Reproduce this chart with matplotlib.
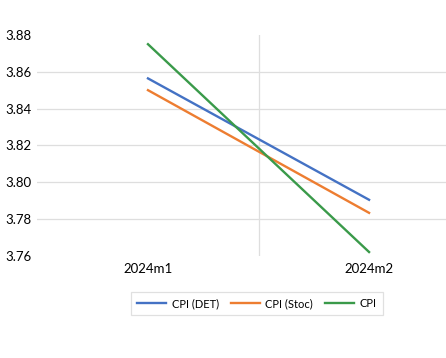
import matplotlib.pyplot as plt

periods = ["2024m1", "2024m2"]
cpi_det = [3.8564, 3.7904]
cpi_stoc = [3.8500, 3.7833]
cpi = [3.8750, 3.7620]
y_ticks = [3.76, 3.78, 3.80, 3.82, 3.84, 3.86, 3.88]

plt.rcParams['font.family'] = ['Lato', 'DejaVu Sans']

dpi = 100
fig = plt.figure(figsize=(446 / dpi, 358 / dpi), dpi=dpi)
ax = fig.add_axes([37 / 446, 1 - 255.7 / 358, 409 / 446, (255.7 - 35) / 358])

x = list(range(len(periods)))

# light gridlines (inner ticks only, like the source)
for t in y_ticks[1:-1]:
    ax.axhline(t, color="#dedede", lw=0.9, zorder=0)
ax.axvline(0.5, color="#dedede", lw=0.9, zorder=0)

ax.plot(x, cpi_det, color="#4472C4", lw=1.7, label="CPI (DET)")
ax.plot(x, cpi_stoc, color="#ED7D31", lw=1.7, label="CPI (Stoc)")
ax.plot(x, cpi, color="#3A9A4A", lw=1.7, label="CPI")

ax.set_xlim(-0.502, 1.348)
ax.set_ylim(3.76, 3.88)
ax.set_yticks(y_ticks)
ax.set_yticklabels([f"{t:.2f}" for t in y_ticks])
ax.set_xticks(x)
ax.set_xticklabels(periods)
ax.tick_params(axis="both", length=0, labelsize=9.5, colors="#000000")
ax.tick_params(axis="y", pad=4)
ax.tick_params(axis="x", pad=5)
for s in ax.spines.values():
    s.set_visible(False)

leg = fig.legend(loc="center", bbox_to_anchor=(257 / 446, 1 - 303.5 / 358), ncol=3,
                 fontsize=8, frameon=True, fancybox=False, handlelength=2.6,
                 columnspacing=1.1, handletextpad=0.5, borderpad=0.55)
leg.get_frame().set_edgecolor("#d9d9d9")
leg.get_frame().set_linewidth(0.9)

fig.savefig("out.png", dpi=dpi)
